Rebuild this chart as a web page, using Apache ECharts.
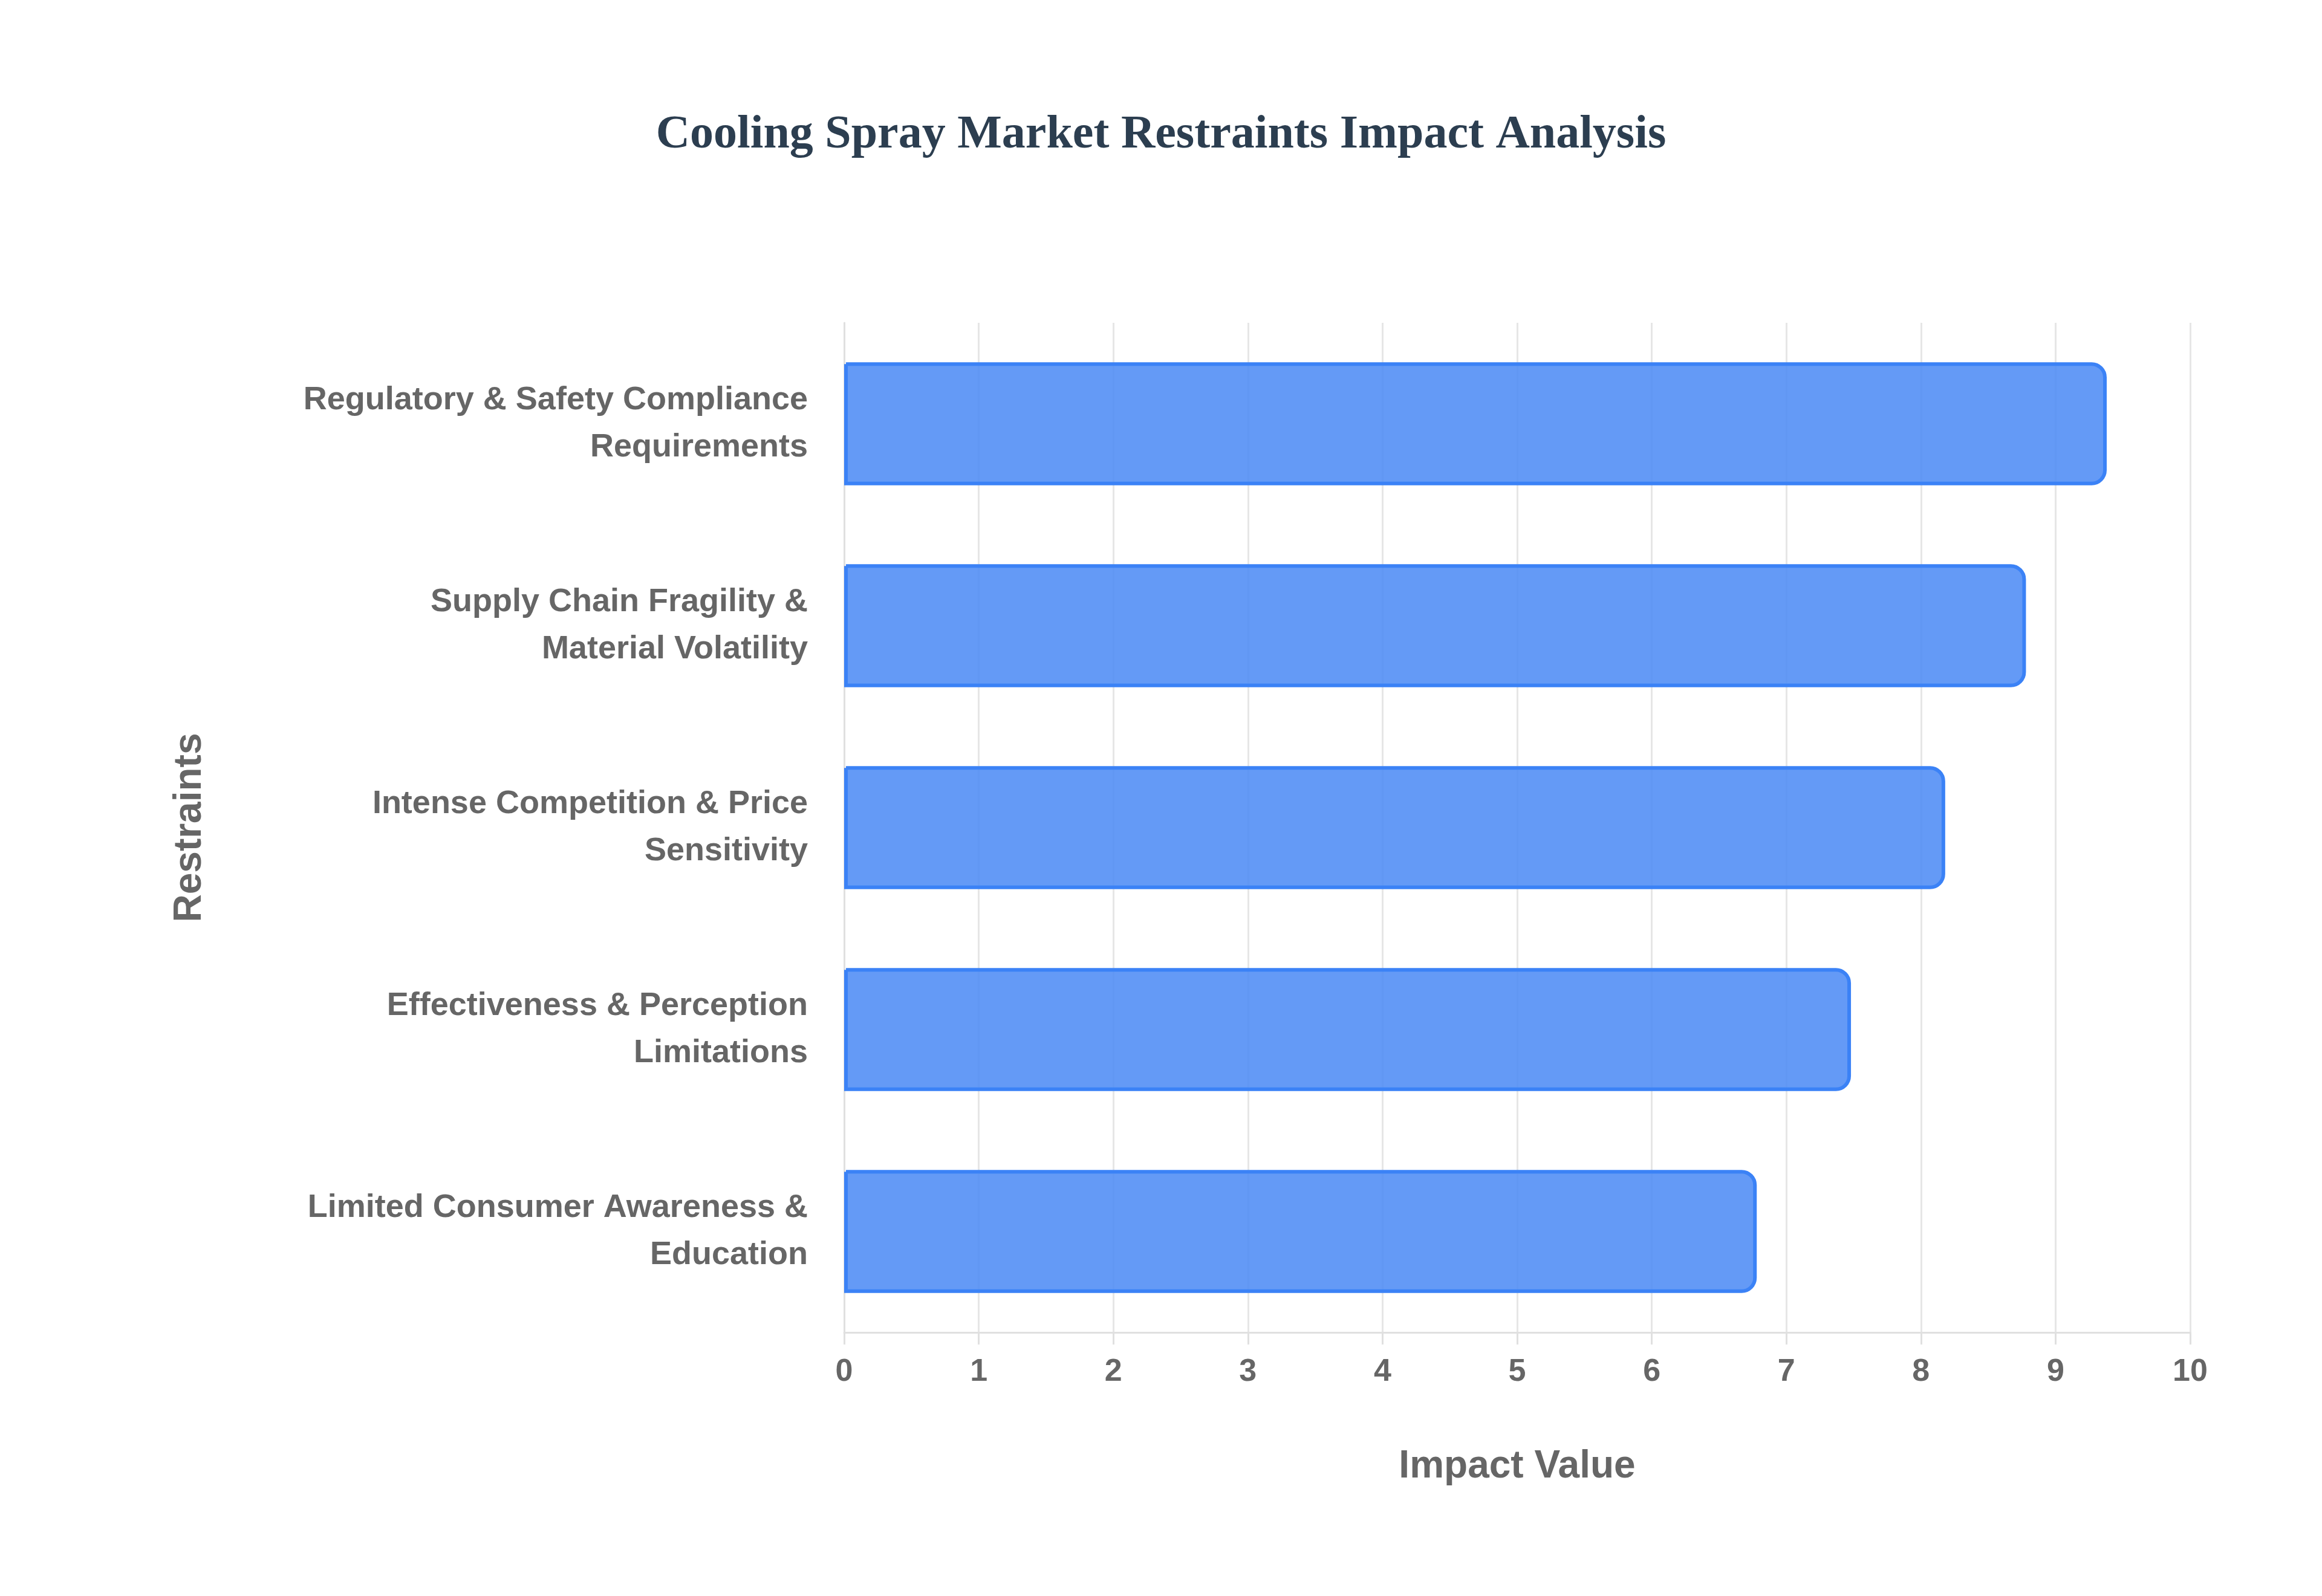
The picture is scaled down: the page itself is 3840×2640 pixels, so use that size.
<!DOCTYPE html>
<html><head><meta charset="utf-8">
<script src="https://cdn.jsdelivr.net/npm/echarts@6/dist/echarts.min.js"></script>
<style>html,body{margin:0;background:#fff}#c{width:3840px;height:2640px}</style>
</head><body><div id="c"></div>
<script>
const categories = ["Regulatory & Safety Compliance\nRequirements","Supply Chain Fragility &\nMaterial Volatility","Intense Competition & Price\nSensitivity","Effectiveness & Perception\nLimitations","Limited Consumer Awareness &\nEducation"];
const values = [9.38, 8.78, 8.18, 7.48, 6.78];
const xTicks = {min:0, max:10, interval:1};
const chart = echarts.init(document.getElementById('c'));
chart.setOption({
  title:{text:"Cooling Spray Market Restraints Impact Analysis",left:'center',top:180,
    textStyle:{fontFamily:"Liberation Serif",fontWeight:'bold',fontSize:78,color:'#2c3e50'}},
  grid:{left:1396,right:218,top:534,bottom:436},
  xAxis:{type:'value',min:xTicks.min,max:xTicks.max,interval:xTicks.interval,
    name:'Impact Value',nameLocation:'middle',nameGap:190,
    nameTextStyle:{fontFamily:'Liberation Sans',fontWeight:'bold',fontSize:64,color:'#666'},
    axisLabel:{fontFamily:'Liberation Sans',fontWeight:'bold',fontSize:52,color:'#666',margin:40},
    axisLine:{show:true,lineStyle:{color:'#e0e0e0',width:3}},axisTick:{show:true,length:20,lineStyle:{color:'#e0e0e0',width:3}},
    splitLine:{lineStyle:{color:'#e6e6e6',width:3}}},
  yAxis:{type:'category',data:categories,inverse:true,
    name:'Restraints',nameLocation:'middle',nameGap:1050,nameRotate:90,
    nameTextStyle:{fontFamily:'Liberation Sans',fontWeight:'bold',fontSize:64,color:'#666'},
    axisLabel:{fontFamily:'Liberation Sans',fontWeight:'bold',fontSize:54,color:'#666',margin:60,lineHeight:78,align:'right'},
    axisLine:{lineStyle:{color:'#e0e0e0',width:3}},axisTick:{show:false}},
  series:[{type:'bar',data:values,barWidth:'61%',
    itemStyle:{color:'rgba(78,140,245,0.88)',borderColor:'#3b82f6',borderWidth:6,borderRadius:[0,22,22,0]}}]
});
</script></body></html>
